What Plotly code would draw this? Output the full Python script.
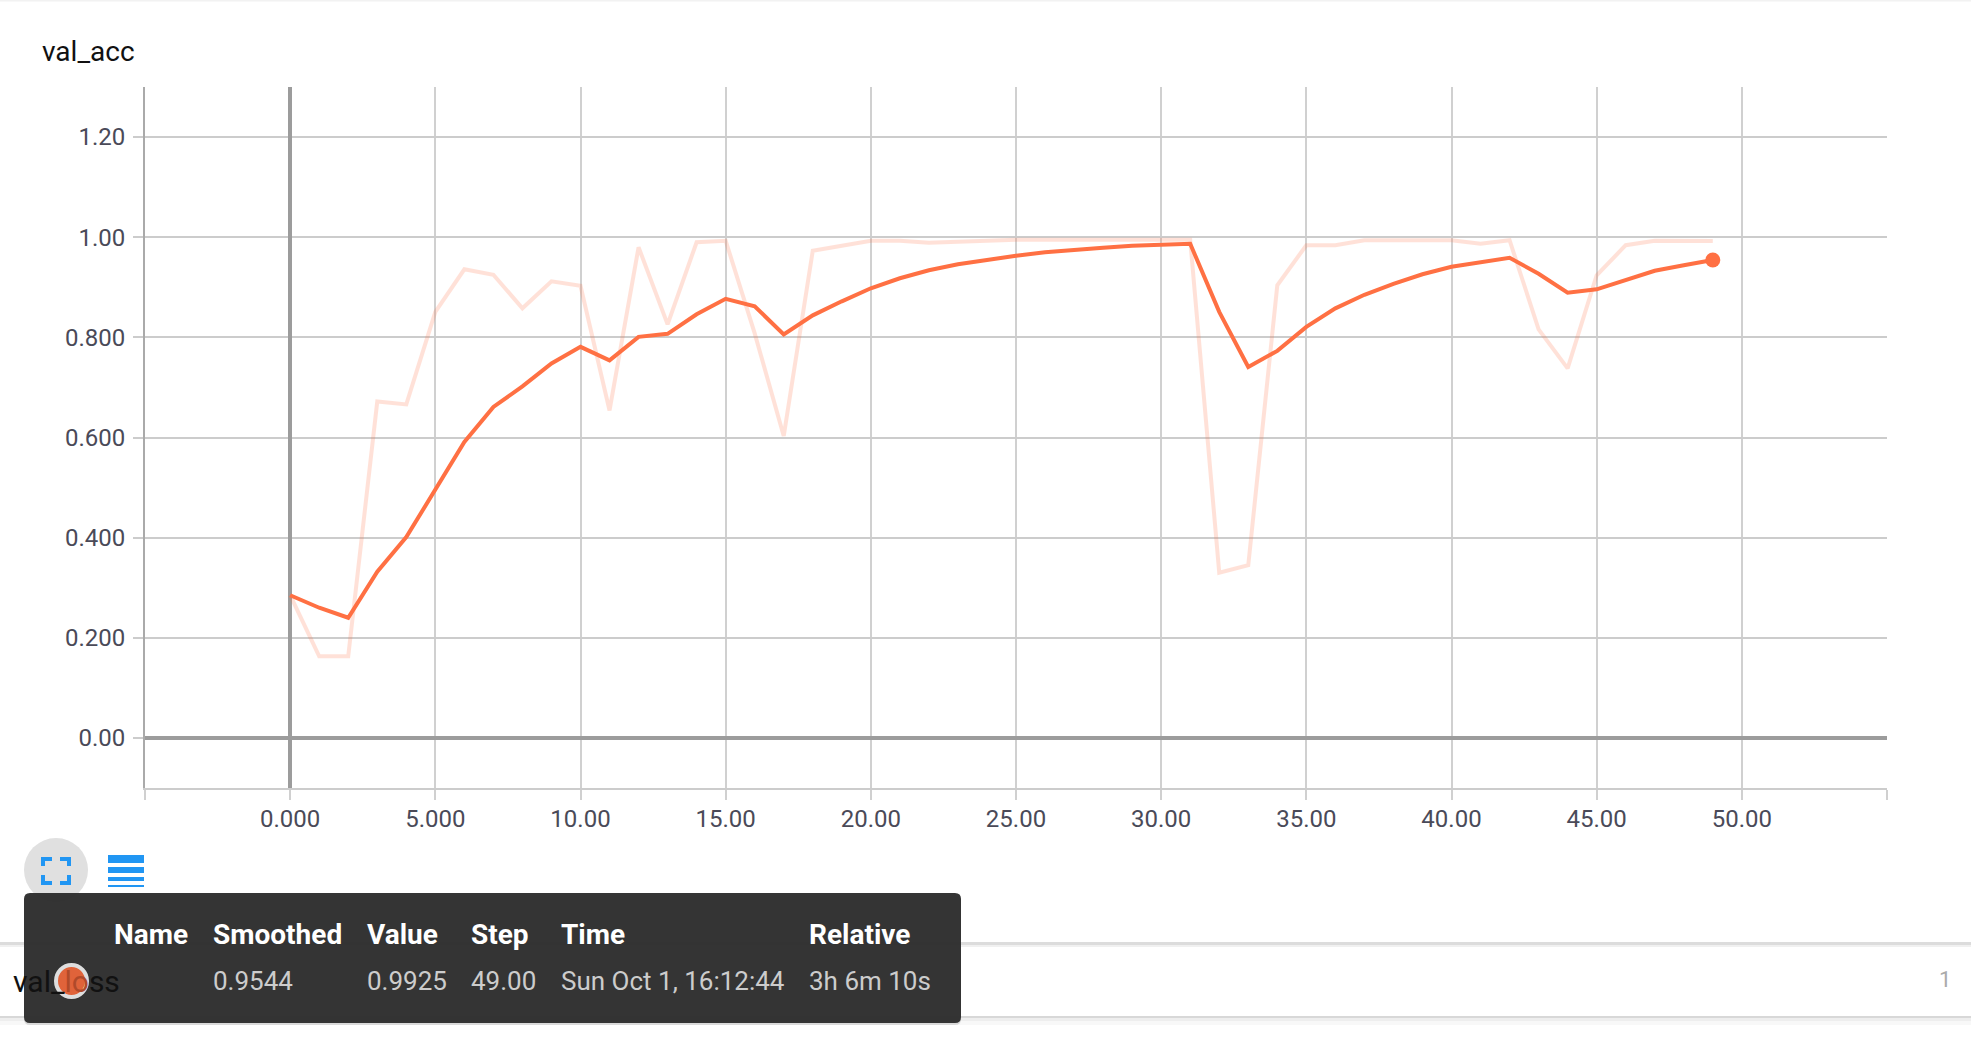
import plotly.graph_objects as go

# val_acc
steps = list(range(50))
raw_acc = [0.285, 0.163, 0.163, 0.672, 0.666, 0.851, 0.936, 0.925, 0.858, 0.912,
           0.903, 0.654, 0.980, 0.826, 0.990, 0.993, 0.808, 0.603, 0.973, 0.982,
           0.993, 0.993, 0.989, 0.991, 0.994, 0.995, 0.995, 0.995, 0.995, 0.995,
           0.995, 0.995, 0.330, 0.345, 0.904, 0.984, 0.984, 0.994, 0.994, 0.994,
           0.994, 0.987, 0.994, 0.816, 0.738, 0.924, 0.984, 0.993, 0.993, 0.9925]
smoothed_acc = [0.285, 0.260, 0.240, 0.332, 0.401, 0.495, 0.591, 0.661, 0.702, 0.748,
                0.781, 0.754, 0.801, 0.807, 0.846, 0.877, 0.862, 0.806, 0.844, 0.872,
                0.898, 0.918, 0.934, 0.946, 0.955, 0.963, 0.970, 0.975, 0.979, 0.983,
                0.985, 0.987, 0.851, 0.741, 0.773, 0.821, 0.858, 0.885, 0.907, 0.926,
                0.941, 0.951, 0.959, 0.927, 0.889, 0.896, 0.915, 0.933, 0.944, 0.9544]

x_ticks = [-5, 0, 5, 10, 15, 20, 25, 30, 35, 40, 45, 50, 55]
x_labels = ["", "0.000", "5.000", "10.00", "15.00", "20.00", "25.00", "30.00",
            "35.00", "40.00", "45.00", "50.00", ""]
y_ticks = [0, 0.2, 0.4, 0.6, 0.8, 1.0, 1.2]
y_labels = ["0.00", "0.200", "0.400", "0.600", "0.800", "1.00", "1.20"]

tip_headers = ["Name", "Smoothed", "Value", "Step", "Time", "Relative"]
tip_values = ["", "0.9544", "0.9925", "49.00", "Sun Oct 1, 16:12:44", "3h 6m 10s"]
tip_columns = [112, 211, 365, 469, 559, 807]

W, H = 1971, 1047
L, R, T, B = 145, 1887, 87, 788
ORANGE = "#ff7043"


# page pixels to paper coordinates
def px(x):
    return (x - L) / (R - L)


def py(y):
    return (B - y) / (B - T)


def rect(x0, y0, x1, y1, color):
    return dict(type="rect", xref="paper", yref="paper", x0=px(x0), x1=px(x1),
                y0=py(y0), y1=py(y1), fillcolor=color, line_width=0)


def rounded(x0, y0, x1, y1, r, color):
    path = (f"M {px(x0 + r)} {py(y0)} L {px(x1 - r)} {py(y0)} Q {px(x1)} {py(y0)} {px(x1)} {py(y0 + r)} "
            f"L {px(x1)} {py(y1 - r)} Q {px(x1)} {py(y1)} {px(x1 - r)} {py(y1)} "
            f"L {px(x0 + r)} {py(y1)} Q {px(x0)} {py(y1)} {px(x0)} {py(y1 - r)} "
            f"L {px(x0)} {py(y0 + r)} Q {px(x0)} {py(y0)} {px(x0 + r)} {py(y0)} Z")
    return dict(type="path", xref="paper", yref="paper", path=path, fillcolor=color, line_width=0)


def circle(x0, y0, x1, y1, color, line=None):
    return dict(type="circle", xref="paper", yref="paper", x0=px(x0), x1=px(x1), y0=py(y0), y1=py(y1),
                fillcolor=color, line=dict(color=line or color, width=4 if line else 0))


def bracket(points):
    path = "M " + " L ".join(f"{px(a)} {py(b)}" for a, b in points)
    return dict(type="path", xref="paper", yref="paper", path=path,
                line=dict(color="#2196f3", width=4))


def label(x, y, text, size, color, weight="normal", anchor="left"):
    return dict(xref="paper", yref="paper", x=px(x), y=py(y), text=text, showarrow=False,
                xanchor=anchor, yanchor="middle",
                font=dict(family="Roboto", size=size, color=color, weight=weight))


fig = go.Figure()
fig.add_trace(go.Scatter(x=steps, y=raw_acc, mode="lines", opacity=0.2,
                         line=dict(color=ORANGE, width=4), showlegend=False))
fig.add_trace(go.Scatter(x=steps, y=smoothed_acc, mode="lines",
                         line=dict(color=ORANGE, width=4), showlegend=False))
fig.add_trace(go.Scatter(x=steps[-1:], y=smoothed_acc[-1:], mode="markers",
                         marker=dict(color=ORANGE, size=15), showlegend=False))

shapes = [
    rect(0, 0, W, 1.5, "#f2f2f2"),
    # table row under the chart
    rect(0, 942, W, 945, "#dcdcdc"),
    rect(0, 945, W, 947, "#f0f0f0"),
    rect(0, 1016, W, 1018, "#d8d8d8"),
    rect(0, 1018, W, 1021, "#eeeeee"),
    rect(0, 1021, W, 1025, "#f8f8f8"),
    # fullscreen button
    circle(24, 838, 88, 902, "#e0e0e0"),
    bracket([(43, 866), (43, 859), (52, 859)]),
    bracket([(60, 859), (69, 859), (69, 866)]),
    bracket([(43, 875), (43, 883), (52, 883)]),
    bracket([(60, 883), (69, 883), (69, 875)]),
    # list button
    rect(108, 855, 144, 863, "#2196f3"),
    rect(108, 867, 144, 873, "#2196f3"),
    rect(108, 877, 144, 881, "#2196f3"),
    rect(108, 885, 144, 887, "#2196f3"),
    # tooltip
    rounded(24, 895, 961, 1025, 6, "rgba(0,0,0,0.12)"),
    rounded(24, 893, 961, 1023, 6, "rgba(45,45,45,0.96)"),
    circle(56, 965, 87, 997, "#e0633a", line="#dedede"),
]

annotations = [
    label(40, 51, "val_acc", 28, "#111111"),
    label(11, 981, "val_<span style='color:#b04a2a'>lo</span>ss", 30, "#111111"),
    label(1945, 979, "1", 22, "#aaaaaa", anchor="center"),
]
for col, head, val in zip(tip_columns, tip_headers, tip_values):
    annotations.append(label(col, 935, head, 28, "#ffffff", weight="bold"))
    if val:
        annotations.append(label(col, 981, val, 26, "#cccccc"))

fig.update_layout(
    width=W, height=H,
    margin=dict(l=L, r=W - R, t=T, b=H - B, pad=0),
    paper_bgcolor="white", plot_bgcolor="white",
    font=dict(family="Roboto", size=24, color="#4a4a58"),
    shapes=shapes, annotations=annotations,
    xaxis=dict(range=[-5, 55], tickmode="array", tickvals=x_ticks, ticktext=x_labels,
               ticks="outside", ticklen=10, tickwidth=2, tickcolor="#d0d0d0",
               gridcolor="#d0d0d0", gridwidth=1.5, showline=True, linecolor="#cccccc", linewidth=2,
               zeroline=True, zerolinecolor="#9c9c9c", zerolinewidth=3.5, ticklabelstandoff=-2),
    yaxis=dict(range=[-0.1, 1.3], tickmode="array", tickvals=y_ticks, ticktext=y_labels,
               ticks="outside", ticklen=10, tickwidth=2, tickcolor="#cccccc",
               gridcolor="#cccccc", gridwidth=2, showline=True, linecolor="#aaaaaa", linewidth=2,
               zeroline=True, zerolinecolor="#9c9c9c", zerolinewidth=3.5, ticklabelstandoff=3),
)

fig.write_html("out.html", config=dict(displayModeBar=False),
               post_script="document.body.style.margin='0';document.body.style.overflow='hidden';")
